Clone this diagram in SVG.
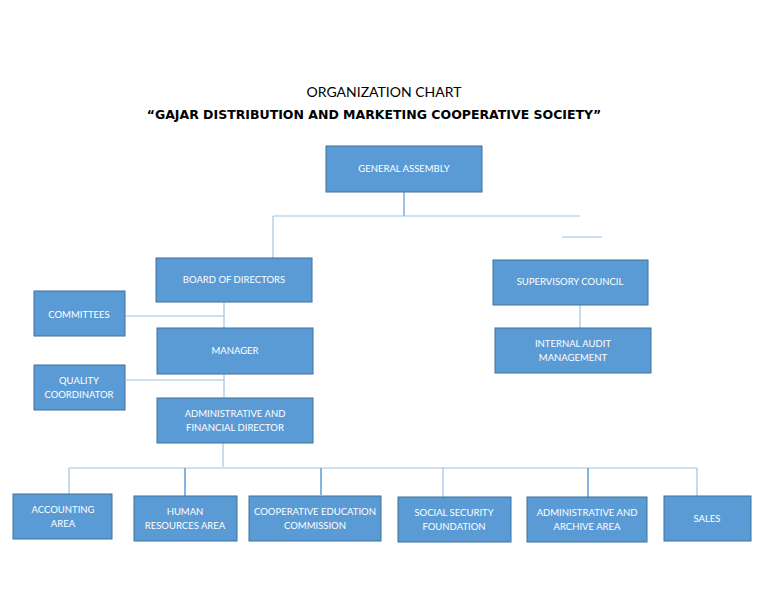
<svg xmlns="http://www.w3.org/2000/svg" width="768" height="594" viewBox="0 0 768 594">
<style>
.b{fill:#5b9bd5;stroke:#41719c;stroke-width:1}
.t{font-family:Lato,"Liberation Sans",sans-serif;font-size:9.5px;fill:#fff;text-anchor:middle}
.c{stroke:#9dc3e6;stroke-width:1.2;fill:none}
.d{stroke:#5b9bd5;stroke-width:1.2;fill:none}
</style>
<rect width="768" height="594" fill="#fff"/>
<text x="384" y="97" font-family="Lato,'Liberation Sans',sans-serif" font-size="14" text-anchor="middle" fill="#000">ORGANIZATION CHART</text>
<text x="374" y="119" font-family="'DejaVu Sans',sans-serif" font-size="12.5" font-weight="bold" text-anchor="middle" fill="#000">“GAJAR DISTRIBUTION AND MARKETING COOPERATIVE SOCIETY”</text>
<g id="connectors">
<path class="d" d="M404 192V216"/>
<path class="c" d="M273 216H580M273 216V258M562 237H602"/>
<path class="c" d="M224 302V328M124 316H224M224 374V398M126 380H224"/>
<path class="c" d="M580 305V328"/>
<path class="c" d="M223 443V467M69 468H697M69 468V494M185 468V496M321 468V495M443 468V497M588 468V497M697 468V496"/>
<path class="d" d="M321 468V495M588 468V497M185 468V496"/>
</g>
<g id="n1"><rect class="b" x="326" y="146" width="156" height="46"/><text class="t" x="404" y="172">GENERAL ASSEMBLY</text></g>
<g id="n2"><rect class="b" x="156" y="258" width="156" height="44"/><text class="t" x="234" y="283">BOARD OF DIRECTORS</text></g>
<g id="n3"><rect class="b" x="493" y="260" width="155" height="45"/><text class="t" x="570" y="285">SUPERVISORY COUNCIL</text></g>
<g id="n4"><rect class="b" x="34" y="291" width="91" height="45"/><text class="t" x="79" y="318">COMMITTEES</text></g>
<g id="n5"><rect class="b" x="157" y="328" width="156" height="46"/><text class="t" x="235" y="354">MANAGER</text></g>
<g id="n6"><rect class="b" x="495" y="328" width="156" height="45"/><text class="t" x="573" y="347">INTERNAL AUDIT</text><text class="t" x="573" y="361">MANAGEMENT</text></g>
<g id="n7"><rect class="b" x="34" y="365" width="91" height="45"/><text class="t" x="79" y="384">QUALITY</text><text class="t" x="79" y="398">COORDINATOR</text></g>
<g id="n8"><rect class="b" x="157" y="398" width="156" height="45"/><text class="t" x="235" y="417">ADMINISTRATIVE AND</text><text class="t" x="235" y="431">FINANCIAL DIRECTOR</text></g>
<g id="n9"><rect class="b" x="13" y="494" width="99" height="45"/><text class="t" x="63" y="513">ACCOUNTING</text><text class="t" x="63" y="527">AREA</text></g>
<g id="n10"><rect class="b" x="134" y="496" width="103" height="45"/><text class="t" x="185" y="515">HUMAN</text><text class="t" x="185" y="529">RESOURCES AREA</text></g>
<g id="n11"><rect class="b" x="249" y="496" width="132" height="45"/><text class="t" x="315" y="515">COOPERATIVE EDUCATION</text><text class="t" x="315" y="529">COMMISSION</text></g>
<g id="n12"><rect class="b" x="398" y="497" width="113" height="45"/><text class="t" x="454" y="516">SOCIAL SECURITY</text><text class="t" x="454" y="530">FOUNDATION</text></g>
<g id="n13"><rect class="b" x="527" y="497" width="120" height="45"/><text class="t" x="587" y="516">ADMINISTRATIVE AND</text><text class="t" x="587" y="530">ARCHIVE AREA</text></g>
<g id="n14"><rect class="b" x="664" y="496" width="87" height="45"/><text class="t" x="707" y="522">SALES</text></g>
</svg>
